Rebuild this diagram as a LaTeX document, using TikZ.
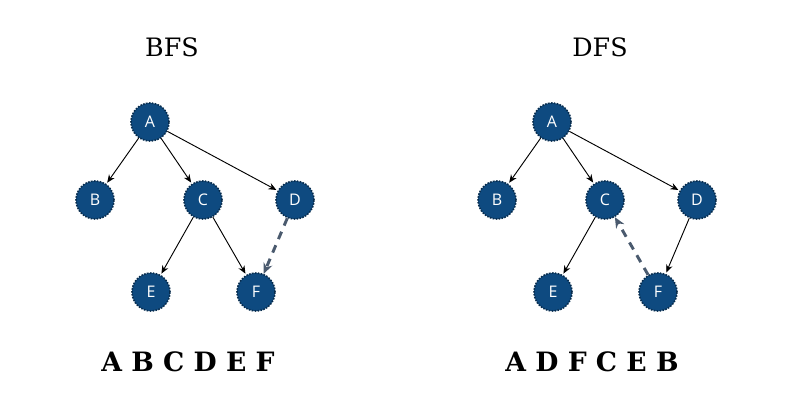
\documentclass[tikz,border=0pt]{standalone}
\usepackage{fontspec}
\setmainfont{DejaVu Serif}
\newfontfamily\nodefont{Open Sans}
\usetikzlibrary{arrows.meta}
\definecolor{nodeblue}{HTML}{0E4A80}
\definecolor{dashc}{HTML}{4A5A6E}
\tikzset{
  vert/.style={circle,minimum size=38\px,inner sep=0pt,fill=nodeblue,draw=nodeblue!60!black,densely dotted,line width=1.2pt,text=white,font=\nodefont\fontsize{12}{12}\selectfont},
  edge/.style={-{Stealth[length=6pt,width=5pt]},line width=0.7pt,shorten >=1pt},
  back/.style={-{Stealth[length=8pt,width=7pt]},dashc,dashed,line width=2.2pt,dash pattern=on 6pt off 5pt},
  ttl/.style={font=\fontsize{19}{19}\selectfont},
  seq/.style={font=\fontsize{20}{20}\selectfont\bfseries}
}
\newlength{\px}\setlength{\px}{0.75pt}
\begin{document}
\begin{tikzpicture}[x=0.75pt,y=-0.75pt]
\useasboundingbox (0,0) rectangle (800,400);
\node[ttl] (t1) at (172,47) {BFS};
\node[ttl] (t2) at (600,47) {DFS};
\node[vert] (a1) at (150,122) {A};
\node[vert] (b1) at (95,200) {B};
\node[vert] (c1) at (203,200) {C};
\node[vert] (d1) at (295,200) {D};
\node[vert] (e1) at (151,292) {E};
\node[vert] (f1) at (256,292) {F};
\draw[edge] (a1) -- (b1);
\draw[edge] (a1) -- (c1);
\draw[edge] (a1) -- (d1);
\draw[edge] (c1) -- (e1);
\draw[edge] (c1) -- (f1);
\draw[back] (d1) -- (f1);
\node[vert] (a2) at (552,122) {A};
\node[vert] (b2) at (497,200) {B};
\node[vert] (c2) at (605,200) {C};
\node[vert] (d2) at (697,200) {D};
\node[vert] (e2) at (553,292) {E};
\node[vert] (f2) at (658,292) {F};
\draw[edge] (a2) -- (b2);
\draw[edge] (a2) -- (c2);
\draw[edge] (a2) -- (d2);
\draw[edge] (c2) -- (e2);
\draw[edge] (d2) -- (f2);
\draw[back] (f2) -- (c2);
\node[seq] (s1) at (188,362) {A B C D E F};
\node[seq] (s2) at (592,362) {A D F C E B};
\end{tikzpicture}
\end{document}
